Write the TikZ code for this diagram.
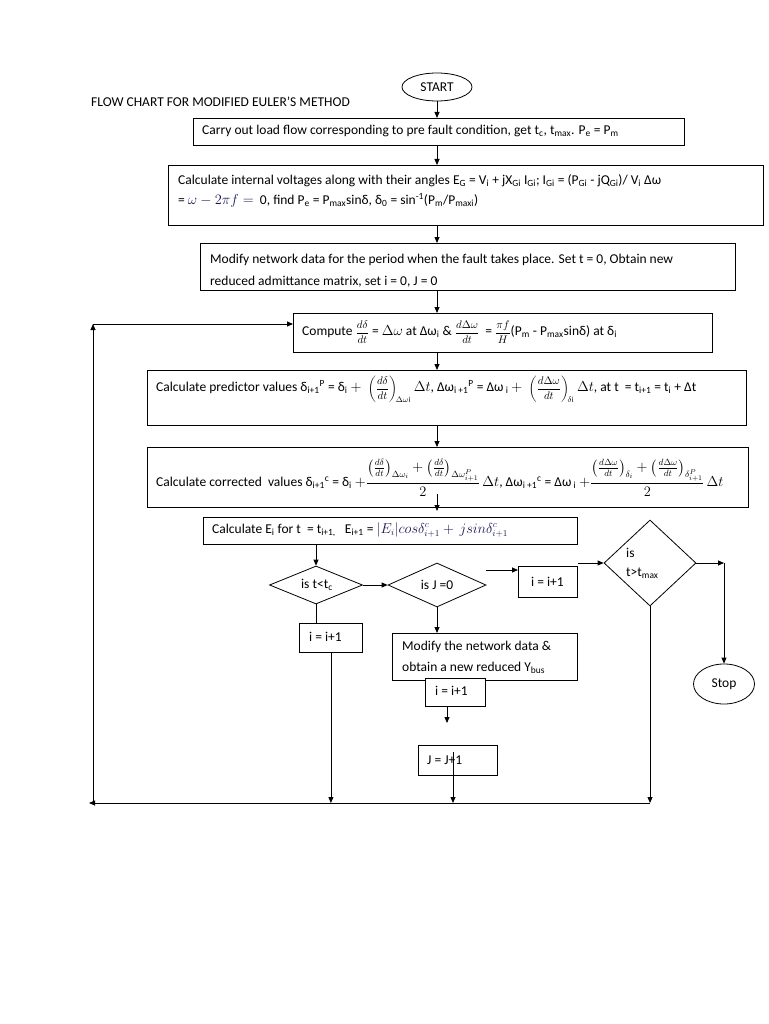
\documentclass[tikz,border=0pt]{standalone}
\usepackage{amsmath}
\usepackage{fontspec}
\setmainfont{Carlito}
\usetikzlibrary{arrows.meta,shapes.geometric}
\definecolor{eqc}{RGB}{25,25,85}
\newcommand\sbt[1]{\textsubscript{#1}}
\newcommand\spt[1]{\textsuperscript{#1}}
\newcommand\smallm[1]{{\fontsize{11}{13}\selectfont$#1$}}
\begin{document}
\begin{tikzpicture}[x=1pt,y=1pt,
  box/.style={draw, line width=0.8pt, anchor=north west, inner sep=0pt},
  txt/.style={anchor=west, inner sep=0pt, font=\fontsize{13.5}{16}\selectfont},
  arr/.style={-{Triangle[length=6pt,width=5pt]}, line width=0.8pt},
  ln/.style={line width=0.8pt},
  dia/.style={draw, diamond, line width=0.8pt, inner sep=0pt},
  term/.style={draw, ellipse, line width=0.8pt, inner sep=0pt, font=\fontsize{13.5}{16}\selectfont}]
\useasboundingbox[fill=white] (0,0) rectangle (768,-1024);
% reference coordinates
\coordinate (cx) at (437,0);
\coordinate (bot) at (0,-803);
\node[txt] (title) at (91,-102) {FLOW CHART FOR MODIFIED EULER’S METHOD};
\node[term, minimum width=70pt, minimum height=28pt] (start) at (437,-87) {START};
% box 1
\node[box, minimum width=491pt, minimum height=27pt] (b1) at (193,-118) {};
\node[txt] (t1) at (202,-131) {Carry out load flow corresponding to pre fault condition, get t\sbt{c}, t\sbt{max}. P\sbt{e} = P\sbt{m}};
% box 2
\node[box, minimum width=595pt, minimum height=60pt] (b2) at (168,-165) {};
\node[txt] (t2a) at (178,-181) {Calculate internal voltages along with their angles E\sbt{G} = V\sbt{i} + jX\sbt{Gi} I\sbt{Gi};\ I\sbt{Gi} = (P\sbt{Gi} - jQ\sbt{Gi})/ V\sbt{i} Δω};
\node[txt] (t2b) at (178,-200) {= \textcolor{eqc}{$\omega-2\pi f=$}\ \ 0, find P\sbt{e} = P\sbt{max}sinδ, δ\sbt{0} = sin\spt{-1}(P\sbt{m}/P\sbt{maxi})};
% box 3
\node[box, minimum width=535pt, minimum height=47pt] (b3) at (200,-243) {};
\node[txt] (t3a) at (210,-260) {Modify network data for the period when the fault takes place. Set t = 0, Obtain new};
\node[txt] (t3b) at (210,-282) {reduced admittance matrix, set i = 0, J = 0};
% box 4
\node[box, minimum width=419pt, minimum height=39pt] (b4) at (293,-313) {};
\node[txt] (t4) at (302,-332) {Compute \smallm{\dfrac{d\delta}{dt}} = $\Delta\omega$ at Δω\sbt{i} \& \smallm{\dfrac{d\Delta\omega}{dt}}\ \ = \smallm{\dfrac{\pi f}{H}}(P\sbt{m} - P\sbt{max}sinδ) at δ\sbt{i}};
% box 5
\node[box, minimum width=599pt, minimum height=55pt] (b5) at (147,-370) {};
\node[txt] (t5) at (156,-389) {Calculate predictor values δ\sbt{i+1}\spt{P} = δ\sbt{i} $+$\ \ \smallm{\left(\dfrac{d\delta}{dt}\right)_{\!\Delta\omega\mathrm{i}}}\ $\Delta t$, Δω\sbt{i +1}\spt{P} = Δω\sbt{ i} $+$\ \ \smallm{\left(\dfrac{d\Delta\omega}{dt}\right)_{\!\delta\mathrm{i}}}\ $\Delta t$, at t\ \ = t\sbt{i+1} = t\sbt{i} + Δt};
% box 6
\node[box, minimum width=601pt, minimum height=60pt] (b6) at (147,-447) {};
\node[txt] (t6) at (156,-478) {Calculate corrected\ \ values δ\sbt{i+1}\spt{c} = δ\sbt{i} $+\dfrac{\left(\frac{d\delta}{dt}\right)_{\Delta\omega_i}+\left(\frac{d\delta}{dt}\right)_{\Delta\omega^{P}_{i+1}}}{2}\,\Delta t$, Δω\sbt{i +1}\spt{c} = Δω\sbt{ i} $+\dfrac{\left(\frac{d\Delta\omega}{dt}\right)_{\delta_i}+\left(\frac{d\Delta\omega}{dt}\right)_{\delta^{P}_{i+1}}}{2}\,\Delta t$};
% box 7
\node[box, minimum width=374pt, minimum height=27pt] (b7) at (203,-517) {};
\node[txt] (t7) at (212,-530) {Calculate E\sbt{i} for t\ \ = t\sbt{i+1,}\ \ \ E\sbt{i+1} = \textcolor{eqc}{$|E_i|cos\delta^c_{i+1}+\,jsin\delta^c_{i+1}$}};
% diamonds
\node[dia, minimum width=93pt, minimum height=38pt] (d1) at (316,-585) {};
\node[txt, anchor=center] (td1) at (317,-585) {is t<t\sbt{c}};
\node[dia, minimum width=98pt, minimum height=44pt] (d2) at (437,-585) {};
\node[txt, anchor=center] (td2) at (437,-585) {is J =0};
\node[dia, minimum width=92pt, minimum height=86pt] (d3) at (650,-563) {};
\node[txt, align=left] (td3) at (626,-563) {is\\[3pt]t>t\sbt{max}};
% small boxes
\node[box, minimum width=59pt, minimum height=31pt] (iR) at (518,-566) {};
\node[txt, anchor=center] (tiR) at (547.5,-582) {i = i+1};
\node[box, minimum width=63pt, minimum height=29pt] (iL) at (299,-623) {};
\node[txt] (tiL) at (309,-637) {i = i+1};
\node[box, minimum width=185pt, minimum height=47pt] (mod) at (392,-633) {};
\node[txt] (tma) at (402,-647) {Modify the network data \&};
\node[txt] (tmb) at (402,-668) {obtain a new reduced Y\sbt{bus}};
\node[box, fill=white, minimum width=60pt, minimum height=28pt] (iM) at (425,-678) {};
\node[txt] (tiM) at (435,-691) {i = i+1};
\node[box, minimum width=79pt, minimum height=30pt] (jb) at (418,-745) {};
\node[txt] (tjb) at (427,-760) {J = J+1};
\node[term, minimum width=61pt, minimum height=40pt] (stop) at (724,-684) {Stop};
% connectors
\draw[arr] (start.south) -- (start.south |- b1.north);
\draw[arr] (b1.south -| cx) -- (b2.north -| cx);
\draw[arr] (b2.south -| cx) -- (b3.north -| cx);
\draw[arr] (b3.south -| cx) -- (b4.north -| cx);
\draw[arr] (b4.south -| cx) -- (b5.north -| cx);
\draw[arr] (b5.south -| cx) -- (b6.north -| cx);
\coordinate (b6a) at (437,-494);
\draw[arr] (b6a) -- ++(0,-17);
\draw[arr] (d1.north |- b7.south) -- (d1.north);
\draw[arr] (d1.east) -- (d2.west);
\draw[arr] ([yshift=15pt]d2.east) -- ([yshift=15pt]d2.east -| iR.west);
\draw[arr] (iR.north east |- d3.west) -- (d3.west);
\draw[arr] (d3.east) -- (d3.east -| stop.north);
\draw[arr] (d3.east -| stop.north) -- (stop.north);
\draw[ln] (d1.south) -- (d1.south |- iL.north);
\draw[arr] (iL.south) -- (iL.south |- bot);
\draw[arr] (d2.south) -- (d2.south |- mod.north);
\coordinate (iMa) at (447,-706);
\draw[arr] (iMa) -- ++(0,-17);
\coordinate (jl) at (453,-752);
\draw[arr] (jl) -- (jl |- bot);
\draw[arr] (d3.south) -- (d3.south |- bot);
\coordinate (bl) at (89,-803);
\draw[arr] (d3.south |- bot) -- (bl);
\coordinate (lb) at (93,-803);
\coordinate (lt) at (93,-324);
\draw[arr] (lb) -- (lt);
\draw[arr] (lt) -- (lt -| b4.west);
\end{tikzpicture}
\end{document}
